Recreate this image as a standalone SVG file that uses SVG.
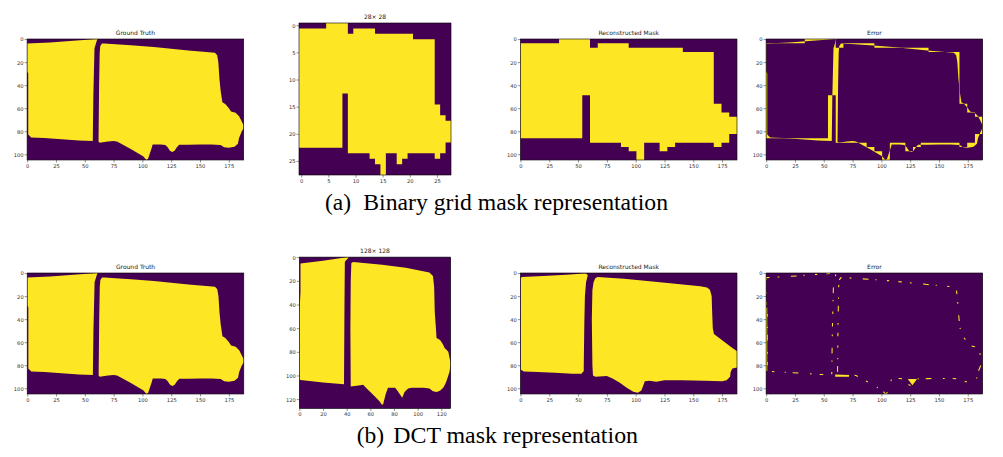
<svg xmlns="http://www.w3.org/2000/svg" xmlns:xlink="http://www.w3.org/1999/xlink" width="1003" height="457" viewBox="0 0 1003 457">
<style>
.bg{fill:#440154}
.y{fill:#fde725}
.frame{fill:none;stroke:#000;stroke-width:0.6}
.tk{fill:none;stroke:#222;stroke-width:0.5}
.xl{font-family:"DejaVu Sans",sans-serif;font-size:5.2px;fill:#333;text-anchor:middle}
.yl{font-family:"DejaVu Sans",sans-serif;font-size:5.2px;fill:#333;text-anchor:end}
.ttl{font-family:"DejaVu Sans",sans-serif;font-size:6px;fill:#222;text-anchor:middle}
.cap{font-family:"Liberation Serif","Times New Roman",serif;font-size:23.5px;fill:#000}
.dash{fill:none;stroke:#fde725;stroke-width:0.9;stroke-dasharray:3 7 1.5 10 5 6 1 9 2 8}
.ln{fill:none;stroke:#fde725;stroke-width:1}
</style>
<defs>
<path id="gt" d="M0,4 L20,3 L40,1.5 L58,0.2 L61,0 L60,3 L58.5,8 L57.5,50 L57,88.5 L45,88 L30,87 L15,86 L3.5,85.5 L1,83 L1,30 L0,28 Z M63.5,6 L65,4 L67,4 L90,5.5 L110,7 L125,8.5 L140,10 L163,12 L165,14 L166,20 L167,35 L168,45 L169.5,55 L172,56.5 L175,60 L177,63 L181,64 L184,67 L186,71 L188,75 L188,77 L186,81 L184,86 L183,91 L180,93.5 L175,94.5 L171,94 L168,92 L160,91.5 L150,91.5 L140,91.7 L132,91.8 L130,94 L128,97 L126,98 L124,97 L122,94 L120,92 L116,91.5 L109,91.5 L108,95 L105,104 L103.5,105 L101,102 L90,95.5 L78,89 L75,88.5 L70,89 L63,90 L62,89 L62.5,40 L63,12 Z"/>
<path id="grid" d="M5,0h4v1h-4z M0,1h9v1h-9z M10,1h4v1h-4z M0,2h21v1h-21z M0,3h25v10h-25z M0,13h8v10h-8z M9,13h16v2h-16z M9,15h17v2h-17z M9,17h18v1h-18z M9,18h19v4h-19z M9,22h18v2h-18z M13,24h3v1h-3z M18,24h2v1h-2z M25,24h1v1h-1z M14,25h2v1h-2z M18,25h1v1h-1z M15,26h1v2h-1z"/>
<path id="dct" d="M1,5.4 L20,3 L41.4,0 L41.5,0.5 L38.5,4 L38.2,40 L37.8,107.5 L20,106 L1,104 L0,103 L0,48 L1,30 Z M44,5 L45.5,4.2 L70,6.5 L90,9 L110,13 L113,16 L114,25 L114.5,46 L115.5,60 L116,68.5 L119,70 L121,73 L123,77 L124,78 L126,80 L127,85 L128,90 L127,97 L126,100 L124,106 L122,110 L119,113 L116,114 L113,113.5 L110,111 L105,110.5 L95,110.5 L92,111 L89,114 L87,119 L85,116 L83,113 L81,110.5 L75,110.5 L73,116 L71,124 L70,125 L68,122 L62,116 L57,111 L54,108 L50,108.5 L43.5,109.5 L43.2,60 L43.5,20 Z"/>
<path id="recb" d="M1,3.5 L20,2.5 L40,1.5 L55,0.5 L57,0.5 L58.5,2 L57,8 L56,20 L55.5,43 L55,80 L55,85 L53,87.5 L45,87.5 L30,86.5 L15,86 L3,85.5 L0.5,84 L0.5,5 Z M63.5,8 L65,4.5 L67,3.5 L90,5 L110,7 L130,9 L156,11.5 L162,12.5 L164.5,14.5 L166,20 L166.5,35 L167,48 L168,53 L172,56 L176,59 L180,62 L184,65 L187.5,67.5 L188,68 L188,82 L184,83 L182.5,86 L182,90 L179,93 L175,94 L160,93.5 L140,93 L125,93 L118,94.5 L112,93.5 L108,94 L106.5,98 L105,102 L102,104 L98,103 L92,99.5 L86,95 L80,91.5 L75,89.5 L65,90 L63,89 L62.5,80 L62,40 L62.5,15 Z"/>
<mask id="mNotGT" maskUnits="userSpaceOnUse" x="-5" y="-5" width="200" height="120">
<rect x="-5" y="-5" width="200" height="120" fill="#fff"/>
<use href="#gt" fill="#000"/>
</mask>
<mask id="mNotRecA" maskUnits="userSpaceOnUse" x="-5" y="-5" width="200" height="120">
<rect x="-5" y="-5" width="200" height="120" fill="#fff"/>
<use href="#grid" transform="scale(6.7143,3.75)" fill="#000"/>
</mask>
<g id="ax188">
<rect class="frame" width="216.6" height="121"/>
<path class="tk" d="M0.58,121v2.5 M29.38,121v2.5 M58.18,121v2.5 M86.98,121v2.5 M115.78,121v2.5 M144.58,121v2.5 M173.38,121v2.5 M202.18,121v2.5 M0,0.58h-2.5 M0,23.62h-2.5 M0,46.66h-2.5 M0,69.7h-2.5 M0,92.74h-2.5 M0,115.78h-2.5"/>
<text class="xl" x="0.58" y="128.5">0</text>
<text class="xl" x="29.38" y="128.5">25</text>
<text class="xl" x="58.18" y="128.5">50</text>
<text class="xl" x="86.98" y="128.5">75</text>
<text class="xl" x="115.78" y="128.5">100</text>
<text class="xl" x="144.58" y="128.5">125</text>
<text class="xl" x="173.38" y="128.5">150</text>
<text class="xl" x="202.18" y="128.5">175</text>
<text class="yl" x="-3.5" y="2.48">0</text>
<text class="yl" x="-3.5" y="25.52">20</text>
<text class="yl" x="-3.5" y="48.56">40</text>
<text class="yl" x="-3.5" y="71.6">60</text>
<text class="yl" x="-3.5" y="94.64">80</text>
<text class="yl" x="-3.5" y="117.68">100</text>
</g>
</defs>

<!-- (a) row -->
<g id="a-ground-truth" transform="translate(27.1,39)">
<text class="ttl" x="108.3" y="-4">Ground Truth</text>
<g transform="scale(1.152)"><rect class="bg" width="188" height="105"/><use href="#gt" class="y"/></g>
<use href="#ax188"/>
</g>

<g id="a-grid28" transform="translate(299,23)">
<text class="ttl" x="76" y="-4.2">28× 28</text>
<g transform="scale(5.42857)"><rect class="bg" width="28" height="28"/><use href="#grid" class="y"/></g>
<rect class="frame" width="152" height="152"/>
<path class="tk" d="M2.71,152v2.5 M29.86,152v2.5 M57,152v2.5 M84.14,152v2.5 M111.29,152v2.5 M138.43,152v2.5 M0,2.71h-2.5 M0,29.86h-2.5 M0,57h-2.5 M0,84.14h-2.5 M0,111.29h-2.5 M0,138.43h-2.5"/>
<text class="xl" x="2.71" y="159.5">0</text>
<text class="xl" x="29.86" y="159.5">5</text>
<text class="xl" x="57" y="159.5">10</text>
<text class="xl" x="84.14" y="159.5">15</text>
<text class="xl" x="111.29" y="159.5">20</text>
<text class="xl" x="138.43" y="159.5">25</text>
<text class="yl" x="-3.5" y="4.61">0</text>
<text class="yl" x="-3.5" y="31.76">5</text>
<text class="yl" x="-3.5" y="58.9">10</text>
<text class="yl" x="-3.5" y="86.04">15</text>
<text class="yl" x="-3.5" y="113.19">20</text>
<text class="yl" x="-3.5" y="140.33">25</text>
</g>

<g id="a-reconstructed" transform="translate(520.4,39)">
<text class="ttl" x="108.3" y="-4">Reconstructed Mask</text>
<g transform="scale(1.152)"><rect class="bg" width="188" height="105"/><use href="#grid" class="y" transform="scale(6.7143,3.75)"/></g>
<use href="#ax188"/>
</g>

<g id="a-error" transform="translate(766.1,39)">
<text class="ttl" x="108.3" y="-4">Error</text>
<g transform="scale(1.152)">
<rect class="bg" width="188" height="105"/>
<g mask="url(#mNotRecA)"><use href="#gt" class="y"/></g>
<g mask="url(#mNotGT)"><use href="#grid" class="y" transform="scale(6.7143,3.75)"/></g>
</g>
<use href="#ax188"/>
</g>

<g id="caption-a">
<text class="cap" x="325" y="210">(a)</text>
<text class="cap" x="363.3" y="210" textLength="304.7" lengthAdjust="spacingAndGlyphs">Binary grid mask representation</text>
</g>

<!-- (b) row -->
<g id="b-ground-truth" transform="translate(27.2,273)">
<text class="ttl" x="108.3" y="-4">Ground Truth</text>
<g transform="scale(1.152)"><rect class="bg" width="188" height="105"/><use href="#gt" class="y"/></g>
<use href="#ax188"/>
</g>

<g id="b-dct128" transform="translate(299.3,257.1)">
<text class="ttl" x="75.7" y="-4.2">128× 128</text>
<g transform="scale(1.1828)"><rect class="bg" width="128" height="128"/><use href="#dct" class="y"/></g>
<rect class="frame" width="151.4" height="151.4"/>
<path class="tk" d="M0.59,151.4v2.5 M24.25,151.4v2.5 M47.91,151.4v2.5 M71.56,151.4v2.5 M95.22,151.4v2.5 M118.87,151.4v2.5 M142.53,151.4v2.5 M0,0.59h-2.5 M0,24.25h-2.5 M0,47.91h-2.5 M0,71.56h-2.5 M0,95.22h-2.5 M0,118.87h-2.5 M0,142.53h-2.5"/>
<text class="xl" x="0.59" y="158.6">0</text>
<text class="xl" x="24.25" y="158.6">20</text>
<text class="xl" x="47.91" y="158.6">40</text>
<text class="xl" x="71.56" y="158.6">60</text>
<text class="xl" x="95.22" y="158.6">80</text>
<text class="xl" x="118.87" y="158.6">100</text>
<text class="xl" x="142.53" y="158.6">120</text>
<text class="yl" x="-3.5" y="2.49">0</text>
<text class="yl" x="-3.5" y="26.15">20</text>
<text class="yl" x="-3.5" y="49.81">40</text>
<text class="yl" x="-3.5" y="73.46">60</text>
<text class="yl" x="-3.5" y="97.12">80</text>
<text class="yl" x="-3.5" y="120.77">100</text>
<text class="yl" x="-3.5" y="144.43">120</text>
</g>

<g id="b-reconstructed" transform="translate(520.4,273)">
<text class="ttl" x="108.3" y="-4">Reconstructed Mask</text>
<g transform="scale(1.152)"><rect class="bg" width="188" height="105"/><use href="#recb" class="y"/></g>
<use href="#ax188"/>
</g>

<g id="b-error" transform="translate(766.1,273)">
<text class="ttl" x="108.3" y="-4">Error</text>
<g transform="scale(1.152)">
<rect class="bg" width="188" height="105"/>
<use href="#gt" class="dash"/>
<path class="ln" d="M0.5,30V85"/>
<path class="y" d="M123,92 L131,92 L127,97.5 Z"/>
<path class="y" d="M60,88 L72,88.5 L72,90 L60,90 Z"/>
</g>
<use href="#ax188"/>
</g>

<g id="caption-b">
<text class="cap" x="356.7" y="443">(b)</text>
<text class="cap" x="393.3" y="443" textLength="244.7" lengthAdjust="spacingAndGlyphs">DCT mask representation</text>
</g>
</svg>
